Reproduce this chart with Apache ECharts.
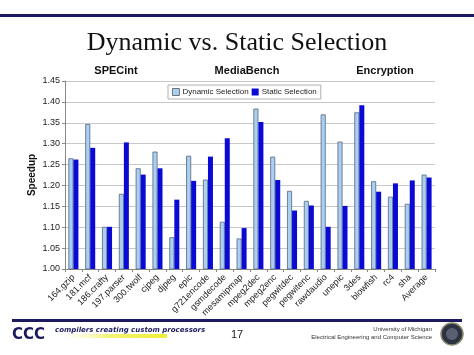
<!DOCTYPE html>
<html>
<head>
<meta charset="utf-8">
<script src="https://cdn.jsdelivr.net/npm/echarts@6/dist/echarts.min.js"></script>
<style>html,body{margin:0;padding:0;background:#fff}#c{width:474px;height:355px}</style>
</head>
<body>
<div id="c"></div>
<script>
var categories = ['164.gzip','181.mcf','186.crafty','197.parser','300.twolf','cjpeg','djpeg','epic','g721encode','gsmdecode','mesamipmap','mpeg2dec','mpeg2enc','pegwitdec','pegwitenc','rawdaudio','unepic','3des','blowfish','rc4','sha','Average'];
var dynamicSelection = [1.265,1.347,1.101,1.180,1.241,1.281,1.076,1.271,1.214,1.113,1.073,1.384,1.269,1.187,1.163,1.370,1.305,1.375,1.210,1.173,1.156,1.226];
var staticSelection  = [1.262,1.290,1.101,1.303,1.226,1.241,1.166,1.211,1.269,1.313,1.098,1.352,1.213,1.140,1.152,1.101,1.151,1.392,1.185,1.205,1.212,1.219];
var groupLabels = ['SPECint','MediaBench','Encryption'];
var yTicks = {min: 1.00, max: 1.45, step: 0.05};

var chart = echarts.init(document.getElementById('c'), null, {renderer: 'canvas'});
var sans = 'Liberation Sans, Arial, sans-serif';
chart.setOption({
  animation: false,
  backgroundColor: '#ffffff',
  grid: {left: 65, right: 39, top: 81, bottom: 86, containLabel: false},
  legend: {
    top: 85, left: 168,
    itemWidth: 7, itemHeight: 7, itemGap: 3,
    padding: [3, 4, 3, 4],
    borderColor: '#b0b0b0', borderWidth: 1, borderRadius: 0,
    backgroundColor: '#ffffff',
    textStyle: {fontFamily: sans, fontSize: 8, color: '#222', padding: [0,0,0,-2]},
    data: [
      {name: 'Dynamic Selection', icon: 'rect', itemStyle: {color: '#a9cff2', borderColor: '#555', borderWidth: 0.8}},
      {name: 'Static Selection', icon: 'rect'}
    ]
  },
  xAxis: {
    type: 'category',
    data: categories,
    axisLine: {lineStyle: {color: '#888', width: 1}},
    axisTick: {show: true, length: 3, lineStyle: {color: '#888'}},
    axisLabel: {rotate: 45, fontFamily: sans, fontSize: 9, color: '#222', margin: 7, interval: 0}
  },
  yAxis: {
    type: 'value',
    min: yTicks.min, max: yTicks.max, interval: yTicks.step,
    name: 'Speedup', nameLocation: 'middle', nameGap: 28, nameRotate: 90, nameMoveOverlap: false,
    nameTextStyle: {fontFamily: sans, fontSize: 10, fontWeight: 'bold', color: '#111'},
    axisLine: {show: true, lineStyle: {color: '#888'}},
    axisTick: {show: true, length: 3, lineStyle: {color: '#888'}},
    axisLabel: {fontFamily: sans, fontSize: 9, color: '#222', margin: 5, formatter: function(v){return v.toFixed(2);}},
    splitLine: {lineStyle: {color: '#c8c8c8', width: 1}}
  },
  series: [
    {name: 'Dynamic Selection', type: 'bar', data: dynamicSelection, barWidth: 5, barGap: '0%',
     itemStyle: {color: '#a9cff2', borderColor: '#56677a', borderWidth: 0.8}},
    {name: 'Static Selection', type: 'bar', data: staticSelection, barWidth: 5, barGap: '0%',
     itemStyle: {color: '#0a0ad4'}}
  ],
  graphic: [
    {type: 'rect', shape: {x: 0, y: 14, width: 474, height: 3}, style: {fill: '#1c1a5e'}},
    {type: 'text', x: 237, y: 43, style: {text: 'Dynamic vs. Static Selection', font: '26px "Liberation Serif", "Times New Roman", serif', fill: '#111', align: 'center', verticalAlign: 'middle'}},
    {type: 'text', x: 116, y: 71, style: {text: groupLabels[0], font: 'bold 11px "Liberation Sans", Arial, sans-serif', fill: '#111', align: 'center', verticalAlign: 'middle'}},
    {type: 'text', x: 247, y: 71, style: {text: groupLabels[1], font: 'bold 11px "Liberation Sans", Arial, sans-serif', fill: '#111', align: 'center', verticalAlign: 'middle'}},
    {type: 'text', x: 385, y: 71, style: {text: groupLabels[2], font: 'bold 11px "Liberation Sans", Arial, sans-serif', fill: '#111', align: 'center', verticalAlign: 'middle'}},
    {type: 'rect', shape: {x: 12, y: 319, width: 450, height: 3}, style: {fill: '#1c1a5e'}},
    {type: 'text', x: 12, y: 335, style: {text: 'CCC', font: 'bold 15px "DejaVu Sans", sans-serif', fill: '#1c1a5e', verticalAlign: 'middle'}},
    {type: 'rect', shape: {x: 52, y: 334, width: 115, height: 4},
     style: {fill: new echarts.graphic.LinearGradient(0, 0, 1, 0, [{offset: 0, color: 'rgba(255,255,255,0)'}, {offset: 0.5, color: 'rgba(240,240,80,0.8)'}, {offset: 1, color: '#eeee33'}])}},
    {type: 'text', x: 55, y: 330, style: {text: 'compilers creating custom processors', font: 'italic bold 7px "DejaVu Sans", sans-serif', fill: '#1c1a5e', verticalAlign: 'middle'}},
    {type: 'text', x: 237, y: 335, style: {text: '17', font: '11px "Liberation Sans", Arial, sans-serif', fill: '#222', align: 'center', verticalAlign: 'middle'}},
    {type: 'text', x: 432, y: 329, style: {text: 'University of Michigan', font: '6px "Liberation Sans", Arial, sans-serif', fill: '#333', align: 'right', verticalAlign: 'middle'}},
    {type: 'text', x: 432, y: 337, style: {text: 'Electrical Engineering and Computer Science', font: '6px "Liberation Sans", Arial, sans-serif', fill: '#333', align: 'right', verticalAlign: 'middle'}},
    {type: 'circle', shape: {cx: 452, cy: 334, r: 11}, style: {fill: '#2b3242', stroke: '#8a8a70', lineWidth: 1.5}},
    {type: 'circle', shape: {cx: 452, cy: 334, r: 6}, style: {fill: '#5a6070'}}
  ]
});
</script>
</body>
</html>
